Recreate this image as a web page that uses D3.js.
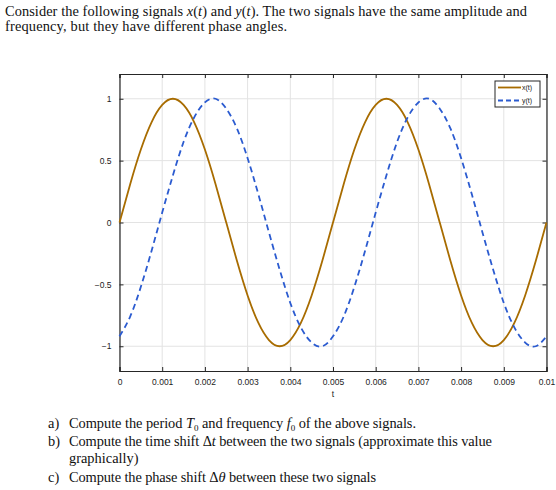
<!DOCTYPE html>
<html>
<head>
<meta charset="utf-8">
<style>
  body { margin: 0; padding: 0; background: #fff; }
  svg { display: block; }
  .txt { font-family: "Liberation Serif", "Times New Roman", serif; fill: #111; }
  .math { font-style: italic; }
  .tick-lbl { font-family: "Liberation Sans", Arial, sans-serif; font-size: 8.5px; fill: #222; }
</style>
<script src="https://d3js.org/d3.v7.min.js"></script>
</head>
<body>
<svg id="chart" width="556" height="490"></svg>
<script>
// time samples (s) and signal values
const tValues = [
  0, 0.00025, 0.0005, 0.00075, 0.001, 0.00125, 0.0015, 0.00175, 0.002, 0.00225,
  0.0025, 0.00275, 0.003, 0.00325, 0.0035, 0.00375, 0.004, 0.00425, 0.0045, 0.00475,
  0.005, 0.00525, 0.0055, 0.00575, 0.006, 0.00625, 0.0065, 0.00675, 0.007, 0.00725,
  0.0075, 0.00775, 0.008, 0.00825, 0.0085, 0.00875, 0.009, 0.00925, 0.0095, 0.00975,
  0.01
];
const xValues = [
  0, 0.31, 0.59, 0.81, 0.95, 1, 0.95, 0.81, 0.59, 0.31,
  0, -0.31, -0.59, -0.81, -0.95, -1, -0.95, -0.81, -0.59, -0.31,
  0, 0.31, 0.59, 0.81, 0.95, 1, 0.95, 0.81, 0.59, 0.31,
  0, -0.31, -0.59, -0.81, -0.95, -1, -0.95, -0.81, -0.59, -0.31,
  0
];
const yValues = [
  -0.92, -0.76, -0.52, -0.23, 0.08, 0.38, 0.65, 0.85, 0.97, 1.0,
  0.92, 0.76, 0.52, 0.23, -0.08, -0.38, -0.65, -0.85, -0.97, -1.0,
  -0.92, -0.76, -0.52, -0.23, 0.08, 0.38, 0.65, 0.85, 0.97, 1.0,
  0.92, 0.76, 0.52, 0.23, -0.08, -0.38, -0.65, -0.85, -0.97, -1.0,
  -0.92
];
const xTicks = [0, 0.001, 0.002, 0.003, 0.004, 0.005, 0.006, 0.007, 0.008, 0.009, 0.01];
const yTicks = [-1, -0.5, 0, 0.5, 1];
const seriesNames = ['x(t)', 'y(t)'];

const svg = d3.select('#chart');
const plot = { left: 119.5, right: 546.5, top: 74, bottom: 371 };

const xScale = d3.scaleLinear().domain([0, 0.01]).range([plot.left, plot.right]);
const yScale = d3.scaleLinear().domain([-1.2, 1.2]).range([plot.bottom, plot.top]);

// heading text
const head = svg.append('text').attr('class', 'txt').attr('font-size', 14.4).attr('x', 5).attr('y', 15.5)
  .attr('textLength', 522).attr('lengthAdjust', 'spacing');
head.append('tspan').text('Consider the following signals ');
head.append('tspan').attr('class', 'math').text('x');
head.append('tspan').text('(');
head.append('tspan').attr('class', 'math').text('t');
head.append('tspan').text(') and ');
head.append('tspan').attr('class', 'math').text('y');
head.append('tspan').text('(');
head.append('tspan').attr('class', 'math').text('t');
head.append('tspan').text('). The two signals have the same amplitude and');
svg.append('text').attr('class', 'txt').attr('font-size', 14.4).attr('x', 5).attr('y', 31)
  .attr('textLength', 282).attr('lengthAdjust', 'spacing')
  .text('frequency, but they have different phase angles.');

// grid
const grid = svg.append('g').attr('stroke', '#e3e3e3').attr('stroke-width', 1);
xTicks.forEach(t => {
  grid.append('line').attr('x1', xScale(t)).attr('x2', xScale(t))
    .attr('y1', plot.top).attr('y2', plot.bottom);
});
yTicks.forEach(v => {
  grid.append('line').attr('y1', yScale(v)).attr('y2', yScale(v))
    .attr('x1', plot.left).attr('x2', plot.right);
});

// axes (ticks point inward, MATLAB style)
const tickLen = 4;
const xAxis = d3.axisBottom(xScale).tickValues(xTicks).tickSize(-tickLen).tickPadding(8)
  .tickFormat(d => d3.format('~g')(+d.toFixed(3)));
const yAxis = d3.axisLeft(yScale).tickValues(yTicks).tickSize(-tickLen).tickPadding(8)
  .tickFormat(d => d3.format('~g')(d));

const gx = svg.append('g').attr('transform', `translate(0,${plot.bottom})`).call(xAxis);
const gy = svg.append('g').attr('transform', `translate(${plot.left},0)`).call(yAxis);
svg.append('g').attr('transform', `translate(0,${plot.top})`)
  .call(d3.axisTop(xScale).tickValues(xTicks).tickSize(-tickLen).tickFormat(''));
svg.append('g').attr('transform', `translate(${plot.right},0)`)
  .call(d3.axisRight(yScale).tickValues(yTicks).tickSize(-tickLen).tickFormat(''));

svg.selectAll('.domain').attr('stroke', '#262626').attr('stroke-width', 1.2);
svg.selectAll('.tick line').attr('stroke', '#262626');
svg.selectAll('.tick text').attr('class', 'tick-lbl').attr('font-family', null).attr('font-size', null);
gx.selectAll('.tick text').attr('dy', '0.71em');

svg.append('text').attr('class', 'tick-lbl').attr('x', xScale(0.005)).attr('y', 397)
  .attr('text-anchor', 'middle').text('t');

// series lines
const data = tValues.map((t, i) => ({ t, x: xValues[i], y: yValues[i] }));
const lineX = d3.line().x(d => xScale(d.t)).y(d => yScale(d.x)).curve(d3.curveNatural);
const lineY = d3.line().x(d => xScale(d.t)).y(d => yScale(d.y)).curve(d3.curveNatural);

svg.append('path').datum(data).attr('fill', 'none').attr('stroke', '#a86c00')
  .attr('stroke-width', 1.8).attr('d', lineX);
svg.append('path').datum(data).attr('fill', 'none').attr('stroke', '#2b5bd0')
  .attr('stroke-width', 1.8).attr('stroke-dasharray', '6,4').attr('d', lineY);

// legend
const legend = svg.append('g').attr('transform', 'translate(495,81)');
legend.append('rect').attr('width', 45).attr('height', 26)
  .attr('fill', '#fff').attr('stroke', '#262626').attr('stroke-width', 1);
[['#a86c00', null], ['#2b5bd0', '5,3']].forEach(([col, dash], i) => {
  const yy = 6.5 + i * 13;
  legend.append('line').attr('x1', 3).attr('x2', 26).attr('y1', yy).attr('y2', yy)
    .attr('stroke', col).attr('stroke-width', 1.8).attr('stroke-dasharray', dash);
  legend.append('text').attr('class', 'tick-lbl').style('font-size', '7px')
    .attr('x', 27).attr('y', yy + 2.5).text(seriesNames[i]);
});

// questions
const qx = 48, tx = 69, fs = 14.4;
function qline(label, y, len) {
  if (label) svg.append('text').attr('class', 'txt').attr('font-size', fs).attr('x', qx).attr('y', y).text(label);
  const el = svg.append('text').attr('class', 'txt').attr('font-size', fs).attr('x', tx).attr('y', y);
  if (len) el.attr('textLength', len).attr('lengthAdjust', 'spacing');
  return el;
}
let q = qline('a)', 428, 347);
q.append('tspan').text('Compute the period ');
q.append('tspan').attr('class', 'math').text('T');
q.append('tspan').attr('font-size', 9).attr('dy', 3).text('0');
q.append('tspan').attr('dy', -3).text(' and frequency ');
q.append('tspan').attr('class', 'math').text('f');
q.append('tspan').attr('font-size', 9).attr('dy', 3).text('0');
q.append('tspan').attr('dy', -3).text(' of the above signals.');

q = qline('b)', 445.5, 423);
q.append('tspan').text('Compute the time shift ');
q.append('tspan').text('Δ');
q.append('tspan').attr('class', 'math').text('t');
q.append('tspan').text(' between the two signals (approximate this value');
qline(null, 462.5).text('graphically)');

q = qline('c)', 481.5, 307);
q.append('tspan').text('Compute the phase shift ');
q.append('tspan').text('Δ');
q.append('tspan').attr('class', 'math').text('θ');
q.append('tspan').text(' between these two signals');
</script>
</body>
</html>
